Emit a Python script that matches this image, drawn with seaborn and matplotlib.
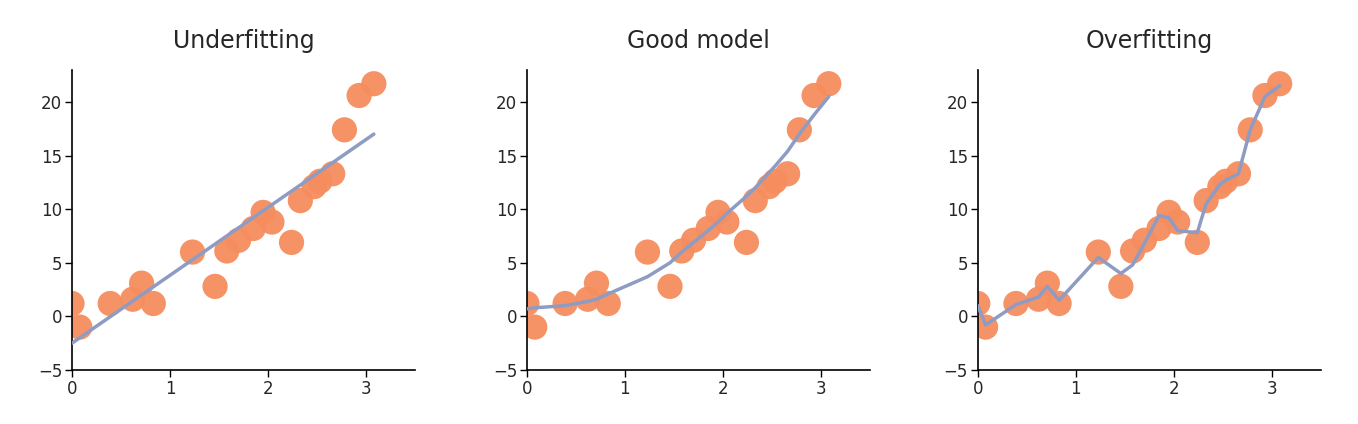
import matplotlib
matplotlib.use("Agg")
import matplotlib.pyplot as plt
import seaborn as sns
import pandas as pd

sns.set_theme(style="white")
plt.rcParams['font.family'] = ['DejaVu Sans']

x = [0.0, 0.08, 0.39, 0.62, 0.71, 0.83, 1.23, 1.46, 1.58, 1.70, 1.85, 1.95, 2.04, 2.24, 2.33, 2.47, 2.53, 2.66, 2.78, 2.93, 3.08]
y = [1.2, -1.0, 1.2, 1.6, 3.1, 1.2, 6.0, 2.8, 6.1, 7.1, 8.2, 9.7, 8.8, 6.9, 10.8, 12.1, 12.6, 13.3, 17.4, 20.6, 21.7]
under_x = [0.0, 3.08]
under_y = [-2.5, 17.0]
good_y = [0.7, 0.8, 1.0, 1.4, 1.6, 2.1, 3.7, 5.0, 6.0, 6.9, 8.0, 8.8, 9.6, 11.2, 12.0, 13.4, 14.0, 15.4, 17.0, 18.8, 20.5]
over_y = [1.0, -0.8, 1.1, 1.8, 2.8, 1.5, 5.5, 4.0, 4.8, 6.8, 9.4, 9.2, 8.0, 7.8, 10.5, 12.3, 12.7, 13.3, 17.4, 20.5, 21.5]
titles = ["Underfitting", "Good model", "Overfitting"]

pts = pd.DataFrame({"x": x, "y": y})
fits = [(under_x, under_y), (x, good_y), (x, over_y)]

fig = plt.figure(figsize=(13.58, 4.24), dpi=100)
lefts = [0.053, 0.388, 0.720]
for left, title, (fx, fy) in zip(lefts, titles, fits):
    ax = fig.add_axes([left, 0.1274, 0.2526, 0.708])
    sns.scatterplot(data=pts, x="x", y="y", ax=ax, s=330, color="#F58D5E",
                    edgecolor="none", alpha=0.95, zorder=2)
    sns.lineplot(x=fx, y=fy, ax=ax, color="#8E9CC4", linewidth=2.5, zorder=3, sort=False)
    ax.set_xlim(0, 3.5)
    ax.set_ylim(-5, 23)
    ax.set_xticks([0, 1, 2, 3])
    ax.set_yticks([-5, 0, 5, 10, 15, 20])
    ax.set_xlabel("")
    ax.set_ylabel("")
    ax.set_title(title, fontsize=17, pad=16)
    for s in ["top", "right"]:
        ax.spines[s].set_visible(False)
    for s in ["left", "bottom"]:
        ax.spines[s].set_color("black")
        ax.spines[s].set_linewidth(1.2)
    ax.tick_params(axis="both", which="both", length=5, width=1, color="black",
                   labelsize=12, direction="out", bottom=True, left=True, pad=2)

fig.savefig("out.png", dpi=100)
